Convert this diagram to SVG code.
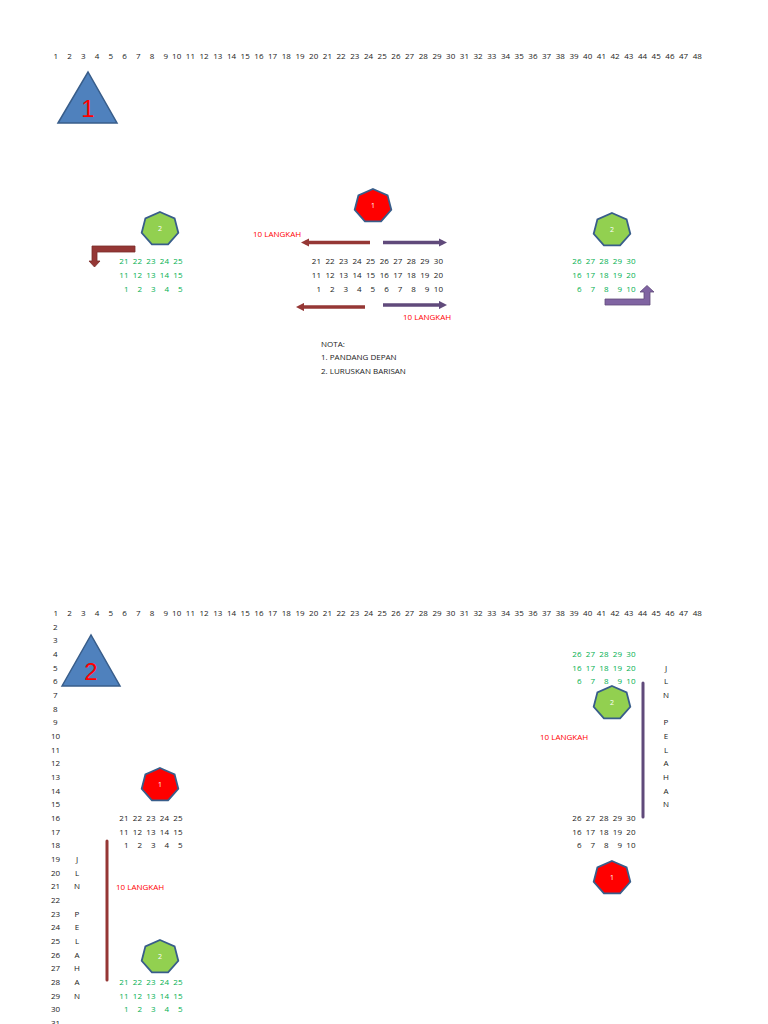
<svg xmlns="http://www.w3.org/2000/svg" width="768" height="1024" viewBox="0 0 768 1024">
<style>
text{font-family:"Open Sans","Liberation Sans",Arial,sans-serif;font-size:8px;fill:#1a1a1a}
.g{fill:#00b050}
.r{fill:#ff0000}
.e{text-anchor:end}
.m{text-anchor:middle}
.w{fill:#fff;font-size:7px;text-anchor:middle}
.big{font-size:24px;fill:#ff0000;text-anchor:middle;font-family:"Liberation Sans",Arial,sans-serif}
.tri{fill:#4f81bd;stroke:#385d8a;stroke-width:1.5}
.red{fill:#ff0000;stroke:#385d8a;stroke-width:1.8}
.grn{fill:#92d050;stroke:#385d8a;stroke-width:1.8}
</style>
<defs>
<polygon id="hep" points="0,-17 14.6,-10.6 18.3,3.8 8.1,15.3 -8.1,15.3 -18.3,3.8 -14.6,-10.6"/>
<marker id="ar2" viewBox="0 0 10 10" refX="5" refY="5" markerWidth="2.4" markerHeight="2.4" orient="auto"><path d="M0,0L10,5L0,10z" fill="#953735"/></marker>
<marker id="ar3" viewBox="0 0 10 10" refX="5" refY="5" markerWidth="2.4" markerHeight="2.4" orient="auto"><path d="M0,0L10,5L0,10z" fill="#604a7b"/></marker>
</defs>

<g id="header-top"><text class="m"><tspan x="55.7" y="59">1</tspan><tspan x="69.5" y="59">2</tspan><tspan x="83.2" y="59">3</tspan><tspan x="97" y="59">4</tspan><tspan x="110.7" y="59">5</tspan><tspan x="124.5" y="59">6</tspan><tspan x="138.2" y="59">7</tspan><tspan x="152" y="59">8</tspan><tspan x="165.7" y="59">9</tspan><tspan x="176.7" y="59">10</tspan><tspan x="190.4" y="59">11</tspan><tspan x="204.1" y="59">12</tspan><tspan x="217.8" y="59">13</tspan><tspan x="231.5" y="59">14</tspan><tspan x="245.2" y="59">15</tspan><tspan x="258.9" y="59">16</tspan><tspan x="272.6" y="59">17</tspan><tspan x="286.3" y="59">18</tspan><tspan x="300" y="59">19</tspan><tspan x="313.7" y="59">20</tspan><tspan x="327.4" y="59">21</tspan><tspan x="341.1" y="59">22</tspan><tspan x="354.8" y="59">23</tspan><tspan x="368.5" y="59">24</tspan><tspan x="382.2" y="59">25</tspan><tspan x="395.9" y="59">26</tspan><tspan x="409.6" y="59">27</tspan><tspan x="423.3" y="59">28</tspan><tspan x="437" y="59">29</tspan><tspan x="450.7" y="59">30</tspan><tspan x="464.4" y="59">31</tspan><tspan x="478.1" y="59">32</tspan><tspan x="491.8" y="59">33</tspan><tspan x="505.5" y="59">34</tspan><tspan x="519.2" y="59">35</tspan><tspan x="532.9" y="59">36</tspan><tspan x="546.6" y="59">37</tspan><tspan x="560.3" y="59">38</tspan><tspan x="574" y="59">39</tspan><tspan x="587.7" y="59">40</tspan><tspan x="601.4" y="59">41</tspan><tspan x="615.1" y="59">42</tspan><tspan x="628.8" y="59">43</tspan><tspan x="642.5" y="59">44</tspan><tspan x="656.2" y="59">45</tspan><tspan x="669.9" y="59">46</tspan><tspan x="683.6" y="59">47</tspan><tspan x="697.3" y="59">48</tspan></text></g>

<g id="header-bottom"><text class="m"><tspan x="55.7" y="616">1</tspan><tspan x="69.5" y="616">2</tspan><tspan x="83.2" y="616">3</tspan><tspan x="97" y="616">4</tspan><tspan x="110.7" y="616">5</tspan><tspan x="124.5" y="616">6</tspan><tspan x="138.2" y="616">7</tspan><tspan x="152" y="616">8</tspan><tspan x="165.7" y="616">9</tspan><tspan x="176.7" y="616">10</tspan><tspan x="190.4" y="616">11</tspan><tspan x="204.1" y="616">12</tspan><tspan x="217.8" y="616">13</tspan><tspan x="231.5" y="616">14</tspan><tspan x="245.2" y="616">15</tspan><tspan x="258.9" y="616">16</tspan><tspan x="272.6" y="616">17</tspan><tspan x="286.3" y="616">18</tspan><tspan x="300" y="616">19</tspan><tspan x="313.7" y="616">20</tspan><tspan x="327.4" y="616">21</tspan><tspan x="341.1" y="616">22</tspan><tspan x="354.8" y="616">23</tspan><tspan x="368.5" y="616">24</tspan><tspan x="382.2" y="616">25</tspan><tspan x="395.9" y="616">26</tspan><tspan x="409.6" y="616">27</tspan><tspan x="423.3" y="616">28</tspan><tspan x="437" y="616">29</tspan><tspan x="450.7" y="616">30</tspan><tspan x="464.4" y="616">31</tspan><tspan x="478.1" y="616">32</tspan><tspan x="491.8" y="616">33</tspan><tspan x="505.5" y="616">34</tspan><tspan x="519.2" y="616">35</tspan><tspan x="532.9" y="616">36</tspan><tspan x="546.6" y="616">37</tspan><tspan x="560.3" y="616">38</tspan><tspan x="574" y="616">39</tspan><tspan x="587.7" y="616">40</tspan><tspan x="601.4" y="616">41</tspan><tspan x="615.1" y="616">42</tspan><tspan x="628.8" y="616">43</tspan><tspan x="642.5" y="616">44</tspan><tspan x="656.2" y="616">45</tspan><tspan x="669.9" y="616">46</tspan><tspan x="683.6" y="616">47</tspan><tspan x="697.3" y="616">48</tspan></text></g>

<g id="row-labels"><text><tspan x="53" y="629.7">2</tspan><tspan x="53" y="643.3">3</tspan><tspan x="53" y="657">4</tspan><tspan x="53" y="670.6">5</tspan><tspan x="53" y="684.3">6</tspan><tspan x="53" y="698">7</tspan><tspan x="53" y="711.6">8</tspan><tspan x="53" y="725.3">9</tspan><tspan x="51" y="738.9">10</tspan><tspan x="51" y="752.6">11</tspan><tspan x="51" y="766.3">12</tspan><tspan x="51" y="779.9">13</tspan><tspan x="51" y="793.6">14</tspan><tspan x="51" y="807.2">15</tspan><tspan x="51" y="820.9">16</tspan><tspan x="51" y="834.6">17</tspan><tspan x="51" y="848.2">18</tspan><tspan x="51" y="861.9">19</tspan><tspan x="51" y="875.5">20</tspan><tspan x="51" y="889.2">21</tspan><tspan x="51" y="902.9">22</tspan><tspan x="51" y="916.5">23</tspan><tspan x="51" y="930.2">24</tspan><tspan x="51" y="943.8">25</tspan><tspan x="51" y="957.5">26</tspan><tspan x="51" y="971.2">27</tspan><tspan x="51" y="984.8">28</tspan><tspan x="51" y="998.5">29</tspan><tspan x="51" y="1012.1">30</tspan><tspan x="51" y="1025.8">31</tspan></text></g>

<g id="triangle-1"><polygon class="tri" points="58,123 88,72 117,123"/><text class="big" x="88" y="117">1</text></g>
<g id="triangle-2"><polygon class="tri" points="62,686 91,635 120,686"/><text class="big" x="91" y="680">2</text></g>

<g id="heptagons">
<g id="top-red"><use href="#hep" x="373" y="206" class="red"/><text class="w" x="373" y="208">1</text></g>
<g id="top-green-left"><use href="#hep" x="160" y="229" class="grn"/><text class="w" x="160" y="231">2</text></g>
<g id="top-green-right"><use href="#hep" x="612" y="230" class="grn"/><text class="w" x="612" y="232">2</text></g>
<g id="bot-green-right"><use href="#hep" x="612" y="703" class="grn"/><text class="w" x="612" y="705">2</text></g>
<g id="bot-red-right"><use href="#hep" x="612" y="878" class="red"/><text class="w" x="612" y="880">1</text></g>
<g id="bot-red-left"><use href="#hep" x="160" y="785" class="red"/><text class="w" x="160" y="787">1</text></g>
<g id="bot-green-left"><use href="#hep" x="160" y="957" class="grn"/><text class="w" x="160" y="959">2</text></g>
</g>

<g id="connectors">
<line x1="370" y1="242.5" x2="305" y2="242.5" stroke="#953735" stroke-width="3.5" marker-end="url(#ar2)"/>
<line x1="383" y1="242.5" x2="443" y2="242.5" stroke="#604a7b" stroke-width="3.5" marker-end="url(#ar3)"/>
<line x1="365" y1="307" x2="300" y2="307" stroke="#953735" stroke-width="3.5" marker-end="url(#ar2)"/>
<line x1="383" y1="305" x2="443" y2="305" stroke="#604a7b" stroke-width="3.5" marker-end="url(#ar3)"/>
<polygon points="135,246 135,252 97,252 97,261 100,261 94.5,267 89,261 92,261 92,246" fill="#953735" stroke="#7a2c2a" stroke-width="0.8"/>
<polygon points="605,299 644,299 644,292 640,292 647,285.5 654,292 650,292 650,305 605,305" fill="#8064a2" stroke="#5f497a" stroke-width="0.8"/>
<line x1="643" y1="683" x2="643" y2="817" stroke="#604a7b" stroke-width="3" stroke-linecap="round"/>
<line x1="107" y1="841" x2="107" y2="980" stroke="#953735" stroke-width="3" stroke-linecap="round"/>
</g>

<g id="labels">
<text class="r" x="253" y="237">10 LANGKAH</text>
<text class="r" x="403" y="320">10 LANGKAH</text>
<text class="r" x="540" y="740">10 LANGKAH</text>
<text class="r" x="116" y="890">10 LANGKAH</text>
<text x="321" y="347">NOTA:</text>
<text x="321" y="360">1. PANDANG DEPAN</text>
<text x="321" y="374">2. LURUSKAN BARISAN</text>
<text class="m"><tspan x="666" y="670.6">J</tspan><tspan x="666" y="684.3">L</tspan><tspan x="666" y="698">N</tspan><tspan x="666" y="725.3">P</tspan><tspan x="666" y="738.9">E</tspan><tspan x="666" y="752.6">L</tspan><tspan x="666" y="766.3">A</tspan><tspan x="666" y="779.9">H</tspan><tspan x="666" y="793.6">A</tspan><tspan x="666" y="807.2">N</tspan></text>
<text class="m"><tspan x="77" y="861.9">J</tspan><tspan x="77" y="875.5">L</tspan><tspan x="77" y="889.2">N</tspan><tspan x="77" y="916.5">P</tspan><tspan x="77" y="930.2">E</tspan><tspan x="77" y="943.8">L</tspan><tspan x="77" y="957.5">A</tspan><tspan x="77" y="971.2">H</tspan><tspan x="77" y="984.8">A</tspan><tspan x="77" y="998.5">N</tspan></text>
</g>

<g id="grid-top-left"><text class="g e"><tspan x="128.5" y="264">21</tspan><tspan x="142" y="264">22</tspan><tspan x="155.5" y="264">23</tspan><tspan x="169" y="264">24</tspan><tspan x="182.5" y="264">25</tspan><tspan x="128.5" y="278">11</tspan><tspan x="142" y="278">12</tspan><tspan x="155.5" y="278">13</tspan><tspan x="169" y="278">14</tspan><tspan x="182.5" y="278">15</tspan><tspan x="128.5" y="292">1</tspan><tspan x="142" y="292">2</tspan><tspan x="155.5" y="292">3</tspan><tspan x="169" y="292">4</tspan><tspan x="182.5" y="292">5</tspan></text></g>

<g id="grid-top-mid"><text class="e"><tspan x="321" y="264">21</tspan><tspan x="334.6" y="264">22</tspan><tspan x="348.1" y="264">23</tspan><tspan x="361.7" y="264">24</tspan><tspan x="375.2" y="264">25</tspan><tspan x="388.8" y="264">26</tspan><tspan x="402.3" y="264">27</tspan><tspan x="415.9" y="264">28</tspan><tspan x="429.4" y="264">29</tspan><tspan x="443" y="264">30</tspan><tspan x="321" y="278">11</tspan><tspan x="334.6" y="278">12</tspan><tspan x="348.1" y="278">13</tspan><tspan x="361.7" y="278">14</tspan><tspan x="375.2" y="278">15</tspan><tspan x="388.8" y="278">16</tspan><tspan x="402.3" y="278">17</tspan><tspan x="415.9" y="278">18</tspan><tspan x="429.4" y="278">19</tspan><tspan x="443" y="278">20</tspan><tspan x="321" y="292">1</tspan><tspan x="334.6" y="292">2</tspan><tspan x="348.1" y="292">3</tspan><tspan x="361.7" y="292">4</tspan><tspan x="375.2" y="292">5</tspan><tspan x="388.8" y="292">6</tspan><tspan x="402.3" y="292">7</tspan><tspan x="415.9" y="292">8</tspan><tspan x="429.4" y="292">9</tspan><tspan x="443" y="292">10</tspan></text></g>

<g id="grid-top-right"><text class="g e"><tspan x="581.5" y="264">26</tspan><tspan x="595" y="264">27</tspan><tspan x="608.5" y="264">28</tspan><tspan x="622" y="264">29</tspan><tspan x="635.5" y="264">30</tspan><tspan x="581.5" y="278">16</tspan><tspan x="595" y="278">17</tspan><tspan x="608.5" y="278">18</tspan><tspan x="622" y="278">19</tspan><tspan x="635.5" y="278">20</tspan><tspan x="581.5" y="292">6</tspan><tspan x="595" y="292">7</tspan><tspan x="608.5" y="292">8</tspan><tspan x="622" y="292">9</tspan><tspan x="635.5" y="292">10</tspan></text></g>

<g id="grid-bot-right-green"><text class="g e"><tspan x="581.5" y="657">26</tspan><tspan x="595" y="657">27</tspan><tspan x="608.5" y="657">28</tspan><tspan x="622" y="657">29</tspan><tspan x="635.5" y="657">30</tspan><tspan x="581.5" y="670.6">16</tspan><tspan x="595" y="670.6">17</tspan><tspan x="608.5" y="670.6">18</tspan><tspan x="622" y="670.6">19</tspan><tspan x="635.5" y="670.6">20</tspan><tspan x="581.5" y="684.3">6</tspan><tspan x="595" y="684.3">7</tspan><tspan x="608.5" y="684.3">8</tspan><tspan x="622" y="684.3">9</tspan><tspan x="635.5" y="684.3">10</tspan></text></g>

<g id="grid-bot-right-black"><text class="e"><tspan x="581.5" y="820.9">26</tspan><tspan x="595" y="820.9">27</tspan><tspan x="608.5" y="820.9">28</tspan><tspan x="622" y="820.9">29</tspan><tspan x="635.5" y="820.9">30</tspan><tspan x="581.5" y="834.6">16</tspan><tspan x="595" y="834.6">17</tspan><tspan x="608.5" y="834.6">18</tspan><tspan x="622" y="834.6">19</tspan><tspan x="635.5" y="834.6">20</tspan><tspan x="581.5" y="848.2">6</tspan><tspan x="595" y="848.2">7</tspan><tspan x="608.5" y="848.2">8</tspan><tspan x="622" y="848.2">9</tspan><tspan x="635.5" y="848.2">10</tspan></text></g>

<g id="grid-bot-left-black"><text class="e"><tspan x="128.5" y="820.9">21</tspan><tspan x="142" y="820.9">22</tspan><tspan x="155.5" y="820.9">23</tspan><tspan x="169" y="820.9">24</tspan><tspan x="182.5" y="820.9">25</tspan><tspan x="128.5" y="834.6">11</tspan><tspan x="142" y="834.6">12</tspan><tspan x="155.5" y="834.6">13</tspan><tspan x="169" y="834.6">14</tspan><tspan x="182.5" y="834.6">15</tspan><tspan x="128.5" y="848.2">1</tspan><tspan x="142" y="848.2">2</tspan><tspan x="155.5" y="848.2">3</tspan><tspan x="169" y="848.2">4</tspan><tspan x="182.5" y="848.2">5</tspan></text></g>

<g id="grid-bot-left-green"><text class="g e"><tspan x="128.5" y="984.8">21</tspan><tspan x="142" y="984.8">22</tspan><tspan x="155.5" y="984.8">23</tspan><tspan x="169" y="984.8">24</tspan><tspan x="182.5" y="984.8">25</tspan><tspan x="128.5" y="998.5">11</tspan><tspan x="142" y="998.5">12</tspan><tspan x="155.5" y="998.5">13</tspan><tspan x="169" y="998.5">14</tspan><tspan x="182.5" y="998.5">15</tspan><tspan x="128.5" y="1012.1">1</tspan><tspan x="142" y="1012.1">2</tspan><tspan x="155.5" y="1012.1">3</tspan><tspan x="169" y="1012.1">4</tspan><tspan x="182.5" y="1012.1">5</tspan></text></g>
</svg>
